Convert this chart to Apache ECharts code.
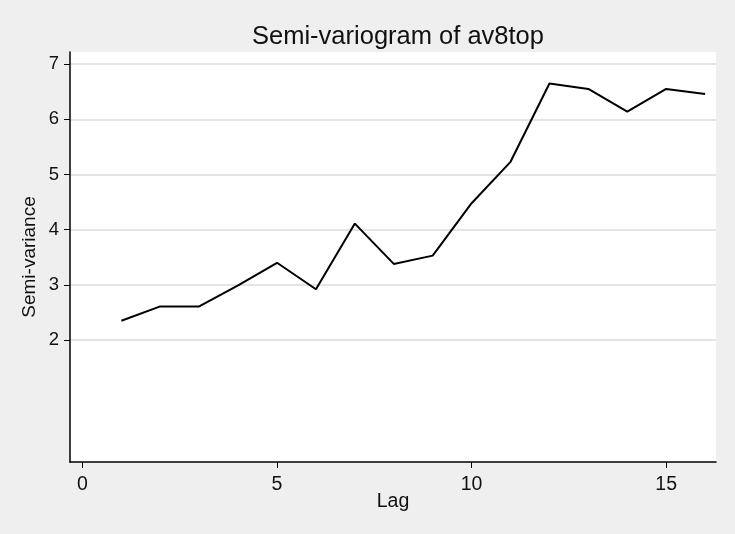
<!DOCTYPE html>
<html>
<head>
<meta charset="utf-8">
<script src="https://cdn.jsdelivr.net/npm/echarts@6/dist/echarts.min.js"></script>
<style>
html,body{margin:0;padding:0;background:#efefef;}
#chart{width:735px;height:534px;}
</style>
</head>
<body>
<div id="chart"></div>
<script>
const lags = [1,2,3,4,5,6,7,8,9,10,11,12,13,14,15,16];
const semiVariance = [2.35,2.61,2.61,2.99,3.40,2.92,4.11,3.38,3.53,4.48,5.23,6.65,6.55,6.14,6.55,6.46];
const xTicks = [0,5,10,15];
const yTicks = [2,3,4,5,6,7];

const chart = echarts.init(document.getElementById('chart'), null, {renderer:'canvas'});
const font = 'Liberation Sans, Arial, sans-serif';
chart.setOption({
  backgroundColor: '#efefef',
  animation: false,
  title: {
    text: 'Semi-variogram of av8top',
    left: 393, top: 19, textAlign: 'center',
    textStyle: {fontFamily: font, fontSize: 25.5, fontWeight: 'normal', color: '#111'}
  },
  grid: {
    left: 70, top: 52, right: 19, bottom: 72,
    show: true, backgroundColor: '#ffffff', borderWidth: 0
  },
  xAxis: {
    type: 'value', min: -0.32, max: 16.28,
    name: 'Lag', nameLocation: 'middle', nameGap: 29.5, nameMoveOverlap: false,
    nameTextStyle: {fontFamily: font, fontSize: 19.5, color: '#111'},
    axisLine: {show: true, onZero: false, lineStyle: {color: '#000', width: 1.5}},
    axisTick: {show: true, length: 6, customValues: xTicks, lineStyle: {color: '#000', width: 1}},
    axisLabel: {customValues: xTicks, fontFamily: font, fontSize: 19.5, color: '#111', margin: 13},
    splitLine: {show: false}
  },
  yAxis: {
    type: 'value', min: -0.21, max: 7.22,
    name: 'Semi-variance', nameLocation: 'middle', nameGap: 31, nameRotate: 90, nameMoveOverlap: false,
    nameTextStyle: {fontFamily: font, fontSize: 19, color: '#111'},
    axisLine: {show: true, onZero: false, lineStyle: {color: '#000', width: 1.5}},
    axisTick: {show: true, length: 6, customValues: yTicks, lineStyle: {color: '#000', width: 1}},
    axisLabel: {customValues: yTicks, fontFamily: font, fontSize: 18.5, color: '#111', margin: 11},
    splitLine: {show: true, lineStyle: {color: '#e4e4e4', width: 2}}
  },
  series: [{
    type: 'line',
    data: lags.map((l, i) => [l, semiVariance[i]]),
    showSymbol: false,
    lineStyle: {color: '#000', width: 2},
    z: 5
  }]
});
</script>
</body>
</html>
